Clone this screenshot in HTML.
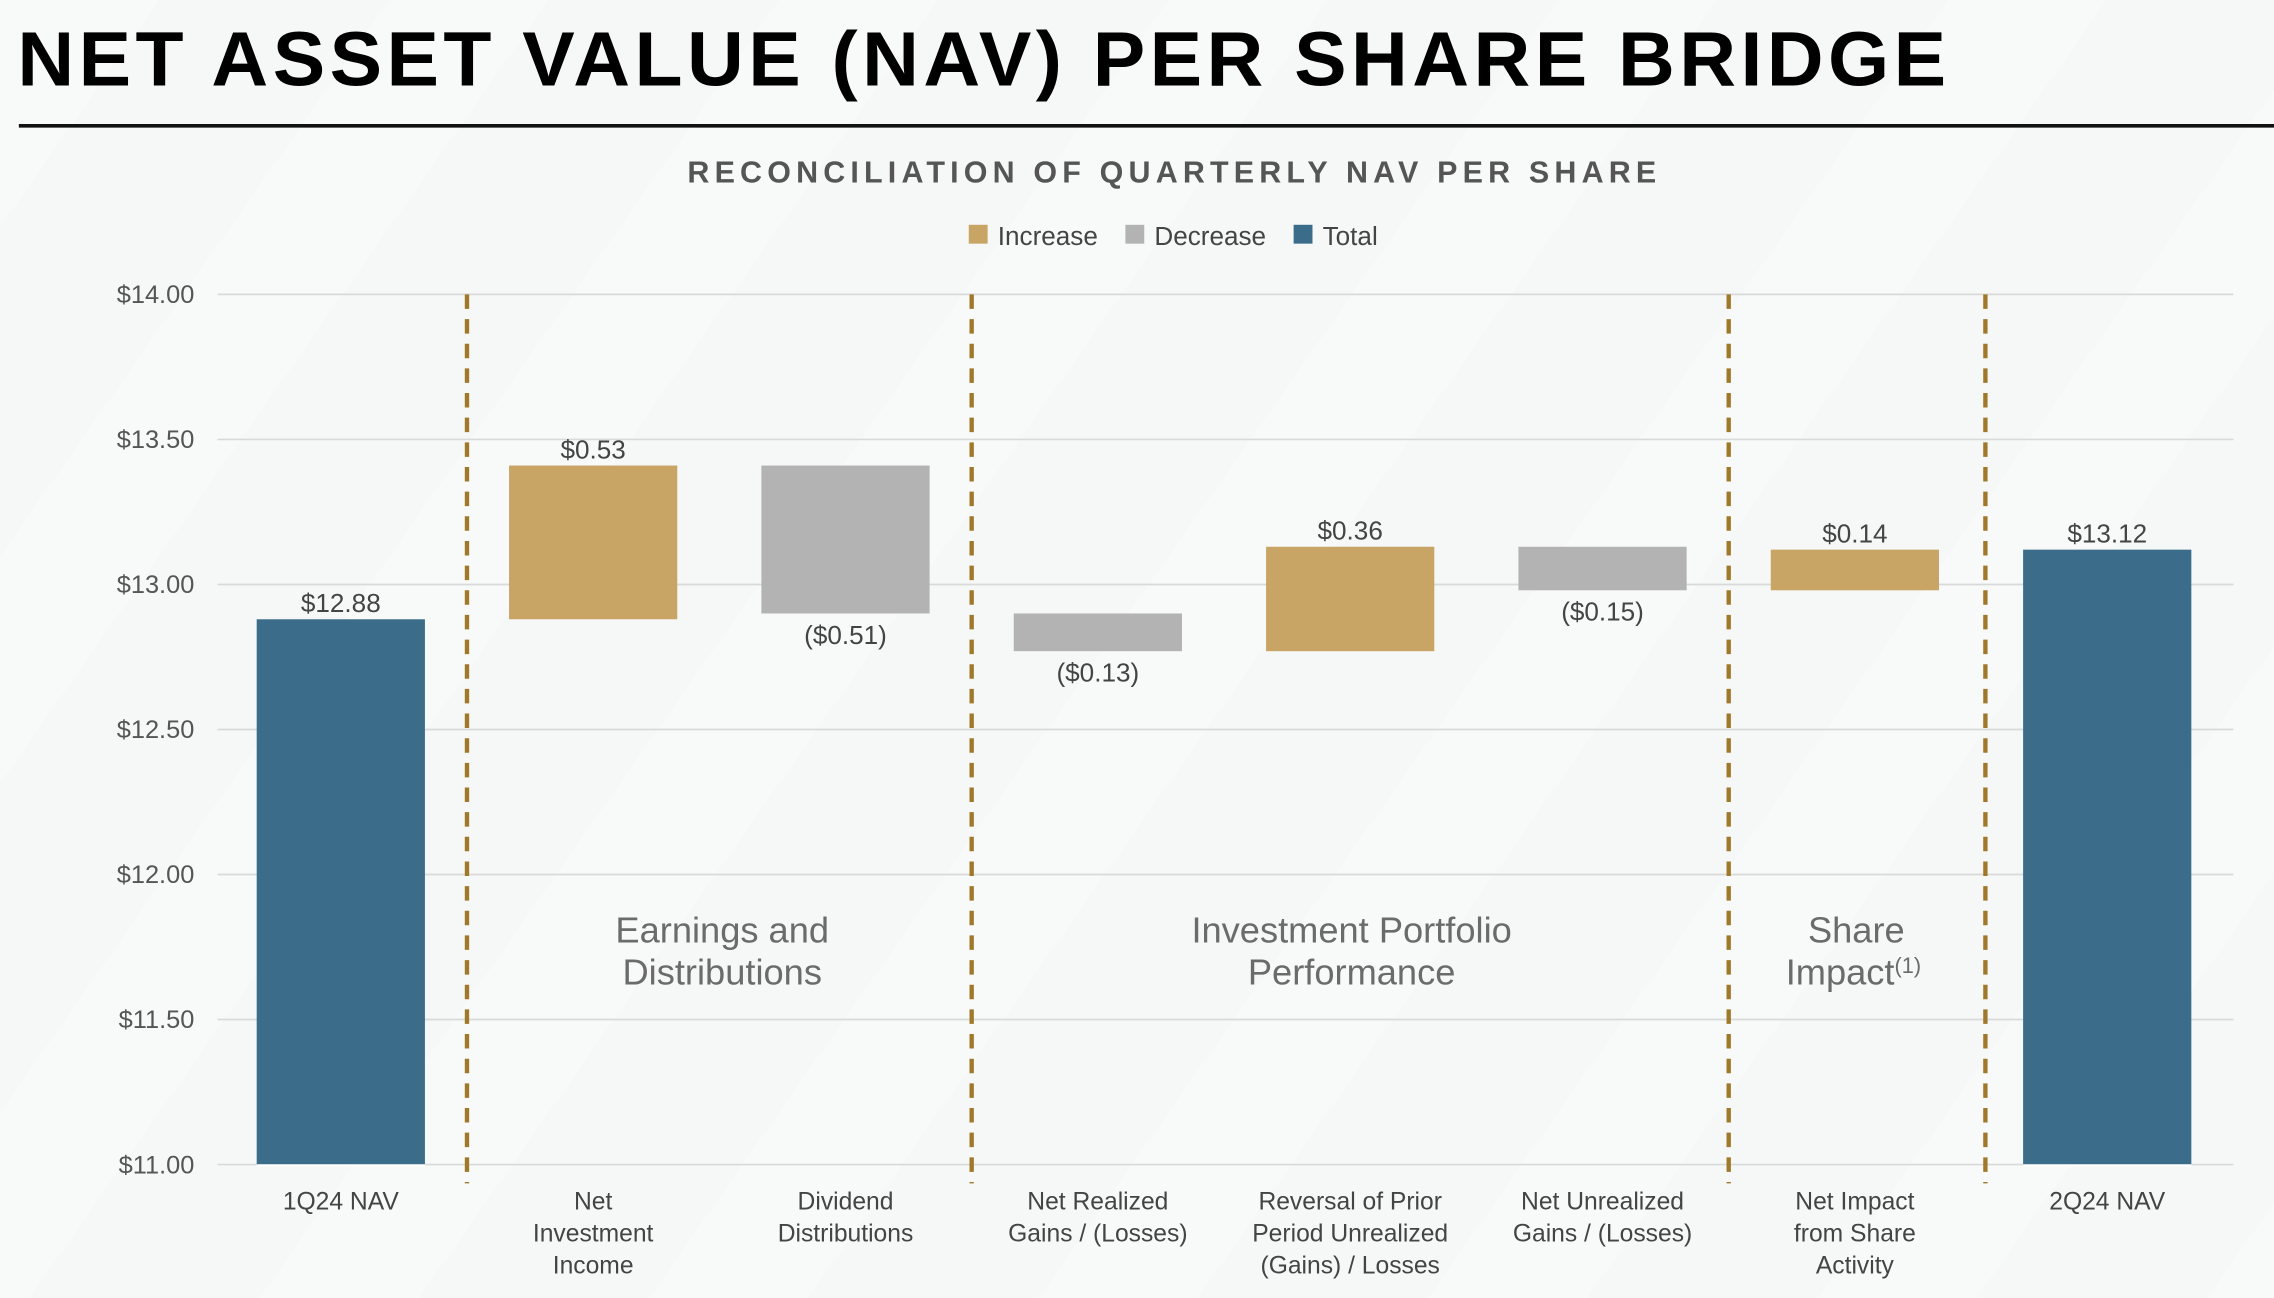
<!DOCTYPE html>
<html><head><meta charset="utf-8"><style>
html,body{margin:0;padding:0;background:#f6f7f7;}
svg{display:block;font-family:"Liberation Sans",Arial,sans-serif;}
</style></head><body>
<svg id="chart" width="2274" height="1298" viewBox="0 0 1568 895" xmlns="http://www.w3.org/2000/svg">
<defs>
<pattern id="stripes" width="220" height="220" patternUnits="userSpaceOnUse" patternTransform="rotate(35)">
<rect width="220" height="220" fill="#f6f7f7"/><rect width="90" height="220" fill="#f8f9f9"/>
</pattern>
</defs>
<rect width="1568" height="895" fill="url(#stripes)"/>
<text x="12" y="59" font-size="53" font-weight="bold" fill="#000" letter-spacing="3" textLength="1333" lengthAdjust="spacingAndGlyphs">NET ASSET VALUE (NAV) PER SHARE BRIDGE</text>
<rect x="13" y="85.5" width="1555" height="2.5" fill="#111"/>
<text x="808" y="126" text-anchor="middle" font-size="21" font-weight="bold" fill="#555" textLength="668" lengthAdjust="spacing">RECONCILIATION OF QUARTERLY NAV PER SHARE</text>
<g font-size="18" fill="#444">
<rect x="668" y="155" width="13" height="13" fill="#c8a465"/>
<text x="688" y="169">Increase</text>
<rect x="776" y="155" width="13" height="13" fill="#b3b3b3"/>
<text x="796" y="169">Decrease</text>
<rect x="892" y="155" width="13" height="13" fill="#3b6d8a"/>
<text x="912" y="169">Total</text>
</g>
<g id="grid"></g>
<g id="bars"></g>
<g id="dividers"></g>
<g font-size="25" fill="#6b6b6b" text-anchor="middle">
<text x="498" y="650">Earnings and</text>
<text x="498" y="679">Distributions</text>
<text x="932" y="650">Investment Portfolio</text>
<text x="932" y="679">Performance</text>
<text x="1280" y="650">Share</text>
<text x="1278" y="679">Impact<tspan font-size="15" dy="-8">(1)</tspan></text>
</g>
</svg>
<script>
const categories=[["1Q24 NAV"],["Net","Investment","Income"],["Dividend","Distributions"],["Net Realized","Gains / (Losses)"],["Reversal of Prior","Period Unrealized","(Gains) / Losses"],["Net Unrealized","Gains / (Losses)"],["Net Impact","from Share","Activity"],["2Q24 NAV"]];
const values=[12.88,0.53,-0.51,-0.13,0.36,-0.15,0.14,13.12];
const kinds=["total","inc","dec","dec","inc","dec","inc","total"];
const valueLabels=["$12.88","$0.53","($0.51)","($0.13)","$0.36","($0.15)","$0.14","$13.12"];
const yTicks=[11,11.5,12,12.5,13,13.5,14];
const yTickLabels=["$11.00","$11.50","$12.00","$12.50","$13.00","$13.50","$14.00"];
const dividerAfter=[0,2,5,6];
const NS="http://www.w3.org/2000/svg";
const y=v=>803-(v-11)*200;
const xc=i=>235+i*174;
const bw=116;
function mk(t,a,p){const e=document.createElementNS(NS,t);for(const k in a)e.setAttribute(k,a[k]);p.appendChild(e);return e;}
const grid=document.getElementById('grid');
yTicks.forEach((t,i)=>{
 const l=mk('line',{x1:150,x2:1540,y1:y(t),y2:y(t),stroke:'#d9d9d9','stroke-width':1.2},grid);
 
 
 const tx=mk('text',{x:134,y:y(t)+6,'text-anchor':'end','font-size':17.5,fill:'#555'},grid);
 
 
 tx.textContent=yTickLabels[i];
});
const bars=document.getElementById('bars');
const colors={total:'#3b6d8a',inc:'#c8a465',dec:'#b3b3b3'};
let run=0;
values.forEach((v,i)=>{
 let lo,hi;
 if(kinds[i]==='total'){lo=11;hi=v;run=v;}
 else{const s=run;run=+(run+v).toFixed(4);lo=Math.min(s,run);hi=Math.max(s,run);}
 const r=mk('rect',{x:xc(i)-bw/2,y:y(hi),width:bw,height:y(lo)-y(hi),fill:colors[kinds[i]]},bars);
 
 
 const ly=kinds[i]==='dec'?y(lo)+21:y(hi)-5;
 const t=mk('text',{x:xc(i),y:ly,'text-anchor':'middle','font-size':18,fill:'#444'},bars);
 
 
 t.textContent=valueLabels[i];
 categories[i].forEach((s,j)=>{
  const c=mk('text',{x:xc(i),y:834+j*22,'text-anchor':'middle','font-size':17,fill:'#444'},bars);
  
  
  c.textContent=s;
 });
});
const base=mk('line',{x1:177,x2:293,y1:803.5,y2:803.5,stroke:'#fff','stroke-width':1.5},bars);


const base2=mk('line',{x1:1395,x2:1511,y1:803.5,y2:803.5,stroke:'#fff','stroke-width':1.5},bars);


const dv=document.getElementById('dividers');
dividerAfter.forEach(i=>{
 const x=(i===6)?1369:(xc(i)+xc(i+1))/2;
 const l=mk('line',{x1:x,x2:x,y1:203,y2:816,stroke:'#a0782a','stroke-width':3,'stroke-dasharray':'10 7'},dv);
 
 
});
</script>
</body></html>
